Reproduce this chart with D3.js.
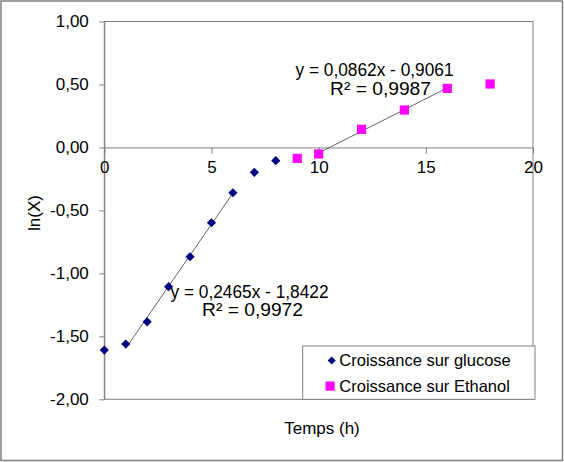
<!DOCTYPE html>
<html><head><meta charset="utf-8">
<script src="https://cdn.jsdelivr.net/npm/d3@7"></script>
<style>
html,body{margin:0;padding:0;background:#fff;}
svg{display:block;font-family:"Liberation Sans",Arial,sans-serif;}
</style></head>
<body><svg id="c" width="564" height="462"></svg>
<script>
// Data
const glucoseX = [0,1,2,3,4,5,6,7,8];
const glucoseY = [-1.609,-1.561,-1.385,-1.106,-0.868,-0.598,-0.360,-0.198,-0.105];
const ethanolX = [9,10,12,14,16,18];
const ethanolY = [-0.087,-0.052,0.144,0.297,0.469,0.504];
const trendGlucose = {slope:0.2465, intercept:-1.8422, from:1, to:6};
const trendEthanol = {slope:0.0862, intercept:-0.9061, from:10, to:16};
const xTicks = [0,5,10,15,20];
const yTicks = [-2,-1.5,-1,-0.5,0,0.5,1];
const seriesNames = ["Croissance sur glucose","Croissance sur Ethanol"];
const eqLabels = [
  {l1:"y = 0,2465x - 1,8422", l2:"R\u00b2 = 0,9972"},
  {l1:"y = 0,0862x - 0,9061", l2:"R\u00b2 = 0,9987"}
];

const svg = d3.select("#c");
const gray = "#808080";
const L=104.3, R=533, T=21.5, B=399.3;
const x = d3.scaleLinear([0,20],[L,R]);
const y = d3.scaleLinear([-2,1],[B,T]);
const fmt = d => d.toFixed(2).replace(".",",").replace("-0,00","0,00");

// outer border
svg.append("rect").attr("x",1).attr("y",1).attr("width",561.5).attr("height",459.5)
  .attr("fill","#fff").attr("stroke",gray).attr("stroke-width",1.5);

// plot frame
svg.append("rect").attr("x",L).attr("y",T).attr("width",R-L).attr("height",B-T)
  .attr("fill","none").attr("stroke",gray).attr("stroke-width",1);

// y axis
const ya = svg.append("g").attr("transform",`translate(${L},0)`)
  .call(d3.axisLeft(y).tickValues(yTicks).tickFormat(fmt).tickSize(5).tickSizeOuter(0).tickPadding(10.5));
// x axis at y=0
const xa = svg.append("g").attr("transform",`translate(0,${y(0)})`)
  .call(d3.axisBottom(x).tickValues(xTicks).tickFormat(d3.format("d")).tickSize(6).tickSizeOuter(0).tickPadding(8));
[ya,xa].forEach(g=>{
  g.selectAll("path,line").attr("stroke",gray);
  g.selectAll("text").attr("font-size",17).attr("fill","#000")
   .attr("font-family","'Liberation Sans',Arial,sans-serif");
});

// trendlines
[trendGlucose,trendEthanol].forEach(t=>{
  svg.append("line")
    .attr("x1",x(t.from)).attr("y1",y(t.slope*t.from+t.intercept))
    .attr("x2",x(t.to)).attr("y2",y(t.slope*t.to+t.intercept))
    .attr("stroke","#505050").attr("stroke-width",0.9);
});

// markers
const diamond = d3.symbol().type(d3.symbolDiamond2).size(54);
svg.append("g").selectAll("path").data(glucoseX).join("path")
  .attr("d",diamond)
  .attr("transform",(d,i)=>`translate(${x(d)},${y(glucoseY[i])})`)
  .attr("fill","#000080");
svg.append("g").selectAll("rect").data(ethanolX).join("rect")
  .attr("x",(d)=>x(d)-4.6).attr("y",(d,i)=>y(ethanolY[i])-4.6)
  .attr("width",9.2).attr("height",9.2).attr("fill","#FF00FF");

// equation labels
function eq(lbl, cx1, b1, cx2, b2){
  svg.append("text").attr("x",cx1).attr("y",b1).attr("text-anchor","middle")
    .attr("font-size",17.5).attr("textLength",158).attr("lengthAdjust","spacingAndGlyphs").text(lbl.l1);
  svg.append("text").attr("x",cx2).attr("y",b2).attr("text-anchor","middle")
    .attr("font-size",17.5).attr("textLength",101).attr("lengthAdjust","spacingAndGlyphs").text(lbl.l2);
}
eq(eqLabels[0], 249.5, 297.5, 252.5, 316);
eq(eqLabels[1], 374.5, 76, 380.5, 95);

// axis titles
svg.append("text").attr("x",322).attr("y",433.5).attr("text-anchor","middle")
  .attr("font-size",17).text("Temps (h)");
svg.append("text").attr("transform","translate(40,213) rotate(-90)").attr("text-anchor","middle")
  .attr("font-size",17).text("ln(X)");

// legend
const lg = svg.append("g");
lg.append("rect").attr("x",302.7).attr("y",346).attr("width",232.3).attr("height",53.3)
  .attr("fill","#fff").attr("stroke",gray).attr("stroke-width",1);
lg.append("path").attr("d",d3.symbol().type(d3.symbolDiamond2).size(42))
  .attr("transform","translate(331.7,360.5)").attr("fill","#000080");
lg.append("rect").attr("x",325.5).attr("y",381.5).attr("width",9.2).attr("height",9.2).attr("fill","#FF00FF");
lg.append("text").attr("x",339.3).attr("y",366).attr("font-size",16.5).text(seriesNames[0]);
lg.append("text").attr("x",339.3).attr("y",392).attr("font-size",16.5).text(seriesNames[1]);
</script></body></html>
